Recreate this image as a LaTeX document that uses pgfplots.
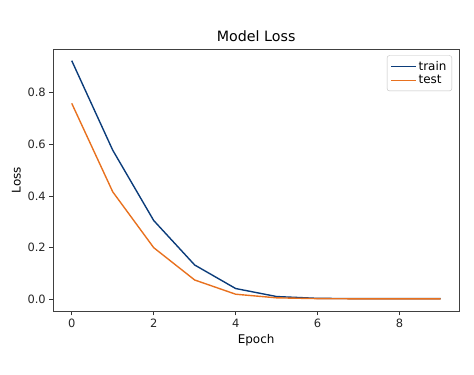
\documentclass[border=0pt]{standalone}
\usepackage{fontspec}
\setmainfont{DejaVu Sans}
\usepackage{pgfplots}
\pgfplotsset{compat=1.18}
\definecolor{trainc}{HTML}{0B3C7A}
\definecolor{testc}{HTML}{E8711F}
\begin{document}
\begin{tikzpicture}[x=1bp,y=1bp]
\begin{axis}[
  name=ax,
  scale only axis,
  width=405.7bp, height=262bp,
  xmin=-0.45, xmax=9.45,
  ymin=-0.046, ymax=0.967,
  xtick={0,2,4,6,8},
  ytick={0,0.2,0.4,0.6,0.8},
  yticklabel style={/pgf/number format/.cd,fixed,fixed zerofill,precision=1},
  /pgf/number format/assume math mode=true,
  tick label style={font=\fontsize{11.5}{13}\selectfont, text=black!85},
  label style={font=\fontsize{12}{14}\selectfont},
  title style={font=\fontsize{14.3}{16}\selectfont, yshift=-2bp},
  title={Model Loss},
  xlabel={Epoch},
  ylabel={Loss},
  tick align=outside,
  tick pos=left,
  major tick length=4bp,
  every tick/.style={black!80, line width=0.8pt},
  axis line style={black!75, line width=0.8pt},
  legend style={at={(0.983,0.977)}, anchor=north east, draw=black!25,
    rounded corners=2.5pt, font=\fontsize{12}{14}\selectfont,
    row sep=0bp, inner sep=3.5pt},
  legend cell align=left,
  legend image post style={xscale=1.45, line width=1.4pt},
]
\addplot[trainc, line width=1.4pt] coordinates {
(0,0.923) (1,0.577) (2,0.305) (3,0.133) (4,0.042) (5,0.011) (6,0.004) (7,0.003) (8,0.003) (9,0.003)};
\addlegendentry{train}
\addplot[testc, line width=1.4pt] coordinates {
(0,0.758) (1,0.416) (2,0.200) (3,0.075) (4,0.020) (5,0.006) (6,0.003) (7,0.002) (8,0.002) (9,0.002)};
\addlegendentry{test}
\end{axis}
\path (ax.south west) ++(-53.3bp,-63.7bp) coordinate (bl);
\path (ax.north east) ++(15bp,49.3bp) coordinate (tr);
\useasboundingbox (bl) rectangle (tr);
\end{tikzpicture}
\end{document}
